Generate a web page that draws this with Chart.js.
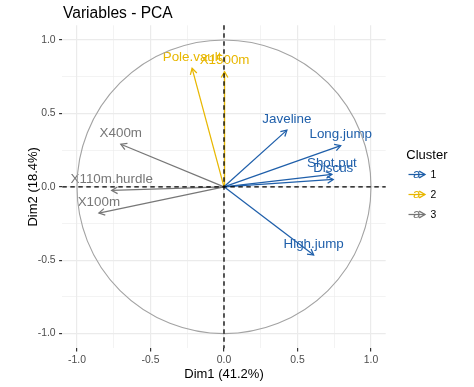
<!DOCTYPE html>
<html><head><meta charset="utf-8">
<script src="https://cdn.jsdelivr.net/npm/chart.js@4"></script>
<style>html,body{margin:0;padding:0;background:#fff;}canvas{display:block;}</style>
</head><body>
<canvas id="c" width="474" height="387"></canvas>
<script>
// ---- data ----
const variables = ['X100m','Long.jump','Shot.put','High.jump','X400m','X110m.hurdle','Discus','Pole.vault','Javeline','X1500m'];
const dim1 = [-0.851, 0.794, 0.734, 0.610, -0.702, -0.764, 0.743, -0.217, 0.428, 0.004];
const dim2 = [-0.179, 0.281, 0.085, -0.465, 0.290, -0.025, 0.050, 0.807, 0.386, 0.784];
const varCluster = ['3','1','1','1','3','3','1','2','1','2'];
const clusterNames = ['1','2','3'];
const clusterColors = ['#1F5FAA','#E8B700','#777777'];
const axisTicks = [-1.0, -0.5, 0.0, 0.5, 1.0];
const titleText = 'Variables - PCA';
const xTitle = 'Dim1 (41.2%)';
const yTitle = 'Dim2 (18.4%)';
const legendTitle = 'Cluster';

const FONT = '"Liberation Sans", Arial, sans-serif';
const colorOf = i => clusterColors[clusterNames.indexOf(varCluster[i])];
const isMajor = v => axisTicks.some(t => Math.abs(t - v) < 1e-9);

const datasets = variables.map((name, i) => ({
  label: name,
  data: [{x: 0, y: 0}, {x: dim1[i], y: dim2[i]}],
  showLine: true,
  borderColor: colorOf(i),
  backgroundColor: colorOf(i),
  borderWidth: 1.25,
  pointRadius: 0,
  pointHoverRadius: 0,
  fill: false,
  tension: 0
}));

function arrowHead(ctx, x0, y0, x1, y1, L) {
  const ang = Math.atan2(y1 - y0, x1 - x0), a = Math.PI / 6;
  ctx.beginPath();
  ctx.moveTo(x1 - L * Math.cos(ang - a), y1 - L * Math.sin(ang - a));
  ctx.lineTo(x1, y1);
  ctx.lineTo(x1 - L * Math.cos(ang + a), y1 - L * Math.sin(ang + a));
  ctx.stroke();
}

const pcaPlugin = {
  id: 'pca',
  afterDatasetsDraw(chart) {
    const ctx = chart.ctx;
    // arrowheads
    chart.data.datasets.forEach((ds, i) => {
      const m = chart.getDatasetMeta(i);
      const p0 = m.data[0], p1 = m.data[1];
      ctx.save();
      ctx.strokeStyle = ds.borderColor; ctx.lineWidth = 1.25;
      arrowHead(ctx, p0.x, p0.y, p1.x, p1.y, 6.7);
      ctx.restore();
    });
    // labels
    chart.data.datasets.forEach((ds, i) => {
      const p1 = chart.getDatasetMeta(i).data[1];
      ctx.save();
      ctx.fillStyle = ds.borderColor;
      ctx.font = '13.4px ' + FONT;
      ctx.textAlign = 'center'; ctx.textBaseline = 'alphabetic';
      ctx.fillText(ds.label, p1.x, p1.y - 7.3);
      ctx.restore();
    });
  },
  afterDraw(chart) {
    const ctx = chart.ctx, xs = chart.scales.x, ys = chart.scales.y, ca = chart.chartArea;
    const cx = xs.getPixelForValue(0), cy = ys.getPixelForValue(0);
    // correlation circle
    ctx.save();
    ctx.strokeStyle = '#A3A3A3'; ctx.lineWidth = 1.1;
    ctx.beginPath();
    ctx.ellipse(cx, cy, xs.getPixelForValue(1) - cx, cy - ys.getPixelForValue(1), 0, 0, Math.PI * 2);
    ctx.stroke();
    // dashed axes
    ctx.strokeStyle = '#000'; ctx.lineWidth = 1.3; ctx.setLineDash([4.5, 3.5]);
    ctx.beginPath(); ctx.moveTo(ca.left, cy); ctx.lineTo(ca.right, cy); ctx.stroke();
    ctx.beginPath(); ctx.moveTo(cx, ca.top); ctx.lineTo(cx, ca.bottom); ctx.stroke();
    ctx.restore();
    // title
    ctx.save();
    ctx.fillStyle = '#000'; ctx.font = '15.6px ' + FONT;
    ctx.textAlign = 'left'; ctx.textBaseline = 'alphabetic';
    ctx.fillText(titleText, ca.left + 0.7, 18);
    // legend
    ctx.font = '13px ' + FONT;
    ctx.fillText(legendTitle, 406.3, 158.5);
    clusterNames.forEach((n, k) => {
      const y = 174.5 + 20 * k, col = clusterColors[k];
      ctx.strokeStyle = col; ctx.lineWidth = 1.25; ctx.setLineDash([]);
      ctx.beginPath(); ctx.moveTo(408.5, y); ctx.lineTo(425, y); ctx.stroke();
      arrowHead(ctx, 408.5, y, 425, y, 6.7);
      ctx.fillStyle = col; ctx.font = '13.4px ' + FONT;
      ctx.textAlign = 'center'; ctx.textBaseline = 'middle';
      ctx.fillText('a', 416.7, y);
      ctx.fillStyle = '#000'; ctx.font = '10.4px ' + FONT;
      ctx.textAlign = 'left';
      ctx.fillText(n, 430.5, y + 0.5);
    });
    ctx.restore();
  }
};

const tickCb = v => isMajor(v) ? Number(v).toFixed(1) : '';
const gridOpts = {
  color: '#EBEBEB',
  lineWidth: c => (c.tick && isMajor(c.tick.value)) ? 1.2 : 0.6,
  drawTicks: true,
  tickLength: 3.2,
  tickWidth: 1.2,
  tickColor: c => (c.tick && isMajor(c.tick.value)) ? '#333333' : 'rgba(0,0,0,0)'
};

new Chart(document.getElementById('c'), {
  type: 'scatter',
  data: {datasets},
  plugins: [pcaPlugin],
  options: {
    responsive: false,
    animation: false,
    devicePixelRatio: 1,
    events: [],
    layout: {padding: {top: 25.3, right: 88.3, left: 0, bottom: 0}},
    plugins: {legend: {display: false}, tooltip: {enabled: false}, title: {display: false}},
    scales: {
      x: {
        type: 'linear', position: 'bottom', min: -1.1, max: 1.1,
        ticks: {stepSize: 0.25, includeBounds: false, autoSkip: false, maxRotation: 0,
          color: '#4D4D4D', font: {family: FONT, size: 10.4}, padding: 2, callback: tickCb},
        grid: gridOpts,
        border: {display: false},
        title: {display: true, text: xTitle, color: '#000', font: {family: FONT, size: 13}, padding: {top: 0, bottom: 5}},
        afterFit(s) { s.height = 38.7; }
      },
      y: {
        type: 'linear', position: 'left', min: -1.1, max: 1.1,
        ticks: {stepSize: 0.25, includeBounds: false, autoSkip: false,
          color: '#4D4D4D', font: {family: FONT, size: 10.4}, padding: 3.5, callback: tickCb},
        grid: gridOpts,
        border: {display: false},
        title: {display: true, text: yTitle, color: '#000', font: {family: FONT, size: 13}, padding: {top: 26, bottom: 0}},
        afterFit(s) { s.width = 62.3; }
      }
    }
  }
});
</script>
</body></html>
